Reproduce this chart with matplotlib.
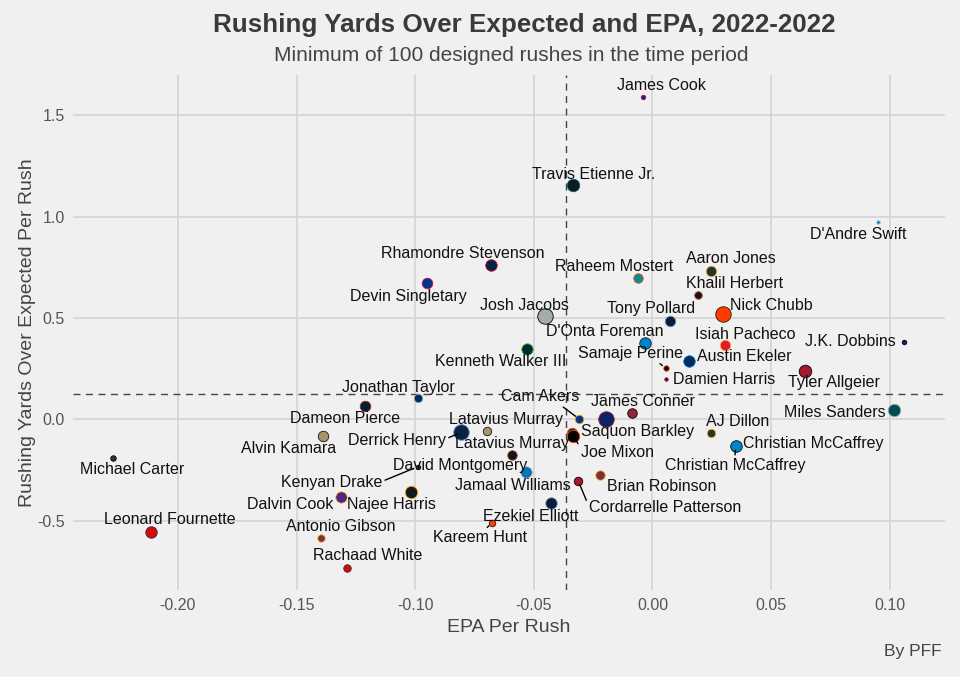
import matplotlib.pyplot as plt

# data
players = [
    "James Cook", "Travis Etienne Jr.", "Rhamondre Stevenson", "Devin Singletary",
    "Josh Jacobs", "Raheem Mostert", "Aaron Jones", "Khalil Herbert", "Tony Pollard",
    "Nick Chubb", "D'Onta Foreman", "Isiah Pacheco", "Kenneth Walker III",
    "D'Andre Swift", "Austin Ekeler", "Samaje Perine", "Damien Harris", "J.K. Dobbins",
    "Tyler Allgeier", "Miles Sanders", "AJ Dillon", "Christian McCaffrey",
    "Christian McCaffrey", "James Conner", "Saquon Barkley", "Cam Akers",
    "Latavius Murray", "Joe Mixon", "Latavius Murray", "Derrick Henry",
    "Dameon Pierce", "Jonathan Taylor", "Alvin Kamara", "Kenyan Drake",
    "David Montgomery", "Jamaal Williams", "Najee Harris", "Dalvin Cook",
    "Antonio Gibson", "Rachaad White", "Ezekiel Elliott", "Kareem Hunt",
    "Cordarrelle Patterson", "Brian Robinson", "Michael Carter", "Leonard Fournette",
]
teams = [
    "BUF", "JAX", "NE", "BUF", "LV", "MIA", "GB", "CHI", "DAL", "CLE", "CAR", "KC",
    "SEA", "DET", "LAC", "CIN", "NE", "BAL", "ATL", "PHI", "GB", "SF", "CAR", "ARI",
    "NYG", "LA", "DEN", "CIN", "NO", "TEN", "HOU", "IND", "NO", "BAL", "CHI", "DET",
    "PIT", "MIN", "WAS", "TB", "DAL", "CLE", "ATL", "WAS", "NYJ", "TB",
]
epa = [
    -0.0042, -0.0334, -0.0681, -0.0949, -0.0455, -0.0059, 0.0246, 0.0192, 0.0073,
    0.0295, -0.0032, 0.0305, -0.0527, 0.0949, 0.0154, 0.0055, 0.0059, 0.1059,
    0.0643, 0.1016, 0.0246, 0.0351, 0.0351, -0.0087, -0.0198, -0.0310,
    -0.0339, -0.0334, -0.0699, -0.0807, -0.1211, -0.0986, -0.1390, -0.0990,
    -0.0594, -0.0535, -0.1019, -0.1314, -0.1396, -0.1286, -0.0428, -0.0677,
    -0.0313, -0.0221, -0.2275, -0.2115,
]
ryoe = [
    1.592, 1.156, 0.761, 0.671, 0.510, 0.700, 0.733, 0.613, 0.486, 0.519, 0.378,
    0.367, 0.345, 0.973, 0.289, 0.252, 0.197, 0.383, 0.237, 0.046, -0.069,
    -0.132, -0.132, 0.033, 0.000, 0.003, -0.068, -0.081, -0.055, -0.064, 0.066,
    0.104, -0.082, -0.234, -0.176, -0.258, -0.360, -0.382, -0.587, -0.732,
    -0.414, -0.510, -0.303, -0.276, -0.189, -0.555,
]
rushes = [
    117, 250, 233, 217, 300, 200, 217, 167, 217, 300, 233, 217, 233, 100, 233,
    133, 100, 117, 250, 250, 183, 233, 233, 200, 300, 183, 217, 250, 183, 300,
    217, 183, 217, 117, 200, 233, 250, 233, 167, 167, 233, 150, 183, 200, 133, 233,
]
epa_avg = -0.0366
ryoe_avg = 0.125

team_colors = {
    "BUF": ("#00338d", "#c60c30"), "JAX": ("#101820", "#006778"),
    "NE": ("#002244", "#c60c30"), "LV": ("#a5acaf", "#000000"),
    "MIA": ("#008e97", "#fc4c02"), "GB": ("#203731", "#ffb612"),
    "CHI": ("#0b162a", "#c83803"), "DAL": ("#041e42", "#869397"),
    "CLE": ("#ff3c00", "#311d00"), "CAR": ("#0085ca", "#101820"),
    "KC": ("#e31837", "#ffb81c"), "SEA": ("#002a32", "#69be28"),
    "DET": ("#0076b6", "#b0b7bc"), "LAC": ("#002a5e", "#0080c6"),
    "CIN": ("#000000", "#fb4f14"), "BAL": ("#241773", "#000000"),
    "ATL": ("#a71930", "#000000"), "PHI": ("#004c54", "#a5acaf"),
    "SF": ("#aa0000", "#b3995d"), "ARI": ("#97233f", "#000000"),
    "NYG": ("#0b2265", "#a71930"), "LA": ("#003594", "#ffa300"),
    "DEN": ("#002244", "#fb4f14"), "NO": ("#a89466", "#101820"),
    "TEN": ("#0c2340", "#4b92db"), "HOU": ("#03202f", "#a71930"),
    "IND": ("#002c5f", "#a2aaad"), "PIT": ("#101820", "#ffb612"),
    "MIN": ("#4f2683", "#ffc62f"), "WAS": ("#773141", "#ffb612"),
    "TB": ("#d50a0a", "#34302b"), "NYJ": ("#1f3d33", "#000000"),
}

# label offsets in pixels (dx, dy)
label_pos = [
    (19, 11), (20, 11), (-28, 12), (-19, -13), (-20, 11), (-24, 11), (20, 12),
    (36, 12), (-19, 12), (49, 9), (-40, 11), (20, 11), (-27, -12), (-19, -12),
    (55, 4), (-35, 15), (58, 0), (-53, 0), (29, -11), (-59, -2), (27, 12),
    (77, 3), (-1, -19), (11, 11), (32, -12), (-39, 22), (-60, -10), (44, -17),
    (19, 11), (-64, -8), (-20, -12), (-20, 11), (-34, -12), (-86, -16),
    (-51, -10), (-13, -14), (-19, -12), (-50, -8), (20, 12), (20, 12),
    (-20, -13), (-12, -15), (87, -27), (62, -11), (20, -12), (19, 12),
]
# labels joined to their point by a segment: index -> anchor on the text box
connectors = {
    15: (0.75, 0), 22: (0.5, 1), 25: (0.75, 0), 26: (1, 0.7), 27: (0, 0.8),
    29: (1, 0.6), 33: (1, 0.6), 41: (0.55, 1), 42: (0, 0.55),
}

bg = "#f0f0f0"
plt.rcParams["font.family"] = ["Liberation Sans", "DejaVu Sans"]

fig = plt.figure(figsize=(9.6, 6.77), dpi=100, facecolor=bg)
ax = fig.add_axes([0.076, 0.1285, 0.908, 0.7605], facecolor=bg)

ax.axvline(epa_avg, color="#444444", lw=1, ls=(0, (5, 4)), zorder=2)
ax.axhline(ryoe_avg, color="#444444", lw=1, ls=(0, (5, 4)), zorder=2)

for i in range(len(players)):
    fill, edge = team_colors[teams[i]]
    d = 3.5 + (rushes[i] - 100) / 16.67
    ax.scatter(epa[i], ryoe[i], s=(d * 0.72) ** 2, color=fill, edgecolors=edge,
               linewidths=0.6, zorder=3)
    dx, dy = label_pos[i]
    props = None
    if i in connectors:
        props = dict(arrowstyle="-", color="black", lw=1.0, shrinkA=0, shrinkB=3,
                     relpos=connectors[i])
    ax.annotate(players[i], (epa[i], ryoe[i]), xytext=(dx, dy),
                textcoords="offset pixels", ha="center", va="center",
                fontsize=11.5, color="#111111", arrowprops=props, zorder=4)

ax.set_xlim(-0.2442, 0.1231)
ax.set_ylim(-0.842, 1.699)
ax.set_xticks([-0.20, -0.15, -0.10, -0.05, 0.00, 0.05, 0.10])
ax.set_xticklabels(["-0.20", "-0.15", "-0.10", "-0.05", "0.00", "0.05", "0.10"])
ax.set_yticks([-0.5, 0.0, 0.5, 1.0, 1.5])
ax.set_yticklabels(["-0.5", "0.0", "0.5", "1.0", "1.5"])
ax.grid(True, color="#d4d4d4", lw=1.2, zorder=0)
ax.set_axisbelow(True)
for sp in ax.spines.values():
    sp.set_visible(False)
ax.tick_params(length=0, labelsize=11.5, labelcolor="#555555", pad=6)

ax.set_xlabel("EPA Per Rush", fontsize=14, color="#444444", labelpad=4)
ax.set_ylabel("Rushing Yards Over Expected Per Rush", fontsize=14,
              color="#444444", labelpad=1)

fig.text(0.546, 0.963, "Rushing Yards Over Expected and EPA, 2022-2022",
         ha="center", va="center", fontsize=18.7, fontweight="bold", color="#3a3a3a")
fig.text(0.533, 0.918, "Minimum of 100 designed rushes in the time period",
         ha="center", va="center", fontsize=15, color="#444444")
fig.text(0.981, 0.037, "By PFF", ha="right", va="center", fontsize=12.5,
         color="#444444")

fig.savefig("out.png", dpi=100, facecolor=bg)
